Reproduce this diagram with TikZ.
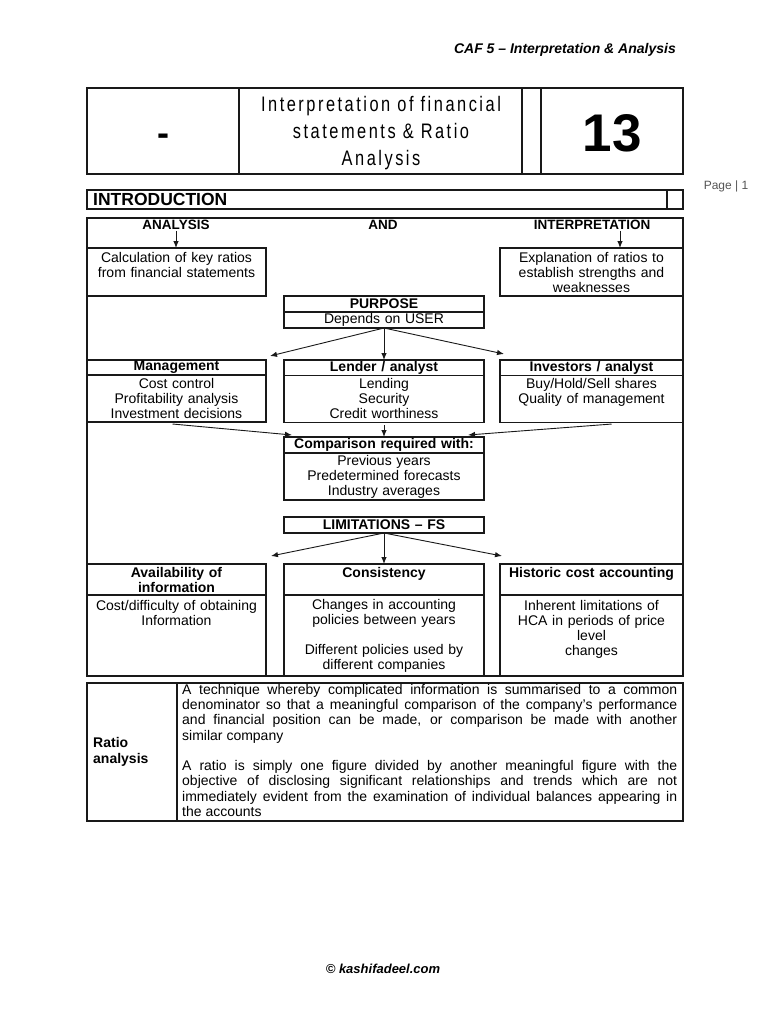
\documentclass[tikz,border=0pt]{standalone}
\usepackage{fontspec}
\setmainfont{Liberation Sans}
\newfontfamily\titlefont[FakeStretch=0.78,LetterSpace=12]{Liberation Sans}
\usepackage{xcolor}
\usepackage{tikz}
\usetikzlibrary{arrows.meta, positioning, calc}
\definecolor{mydark}{RGB}{25,25,25}
\definecolor{mygray}{RGB}{85,85,85}
\tikzset{
  hdrbox/.style={rectangle, draw=mydark, line width=1.1pt, outer sep=0pt,
    inner xsep=2pt, inner ysep=1pt, align=center,
    font=\bfseries\fontsize{14}{15}\selectfont},
  txtbox/.style={rectangle, draw=mydark, line width=1.1pt, outer sep=0pt,
    inner xsep=2pt, inner ysep=1pt, align=center,
    font=\fontsize{14}{15}\selectfont},
  colleft/.style={text width=175pt},
  colmid/.style={text width=196pt},
  colright/.style={text width=179pt},
  heading/.style={font=\bfseries\fontsize{13.5}{15}\selectfont, inner sep=1pt},
  arrow/.style={-{Latex[length=7pt,width=5.5pt]}, line width=0.9pt, color=mydark},
  boxline/.style={line width=1.2pt, draw=mydark}
}
\begin{document}
\begin{tikzpicture}[x=1pt, y=-1pt]
  \path[use as bounding box, fill=white] (0,0) rectangle (768,1024);
  \node[anchor=east, inner sep=0pt, font=\bfseries\itshape\fontsize{14}{16}\selectfont] (caf) at (676,50) {CAF 5 – Interpretation \& Analysis};
  \draw[boxline] (87,88) rectangle (683,174);
  \draw[boxline] (239,88) -- (239,174);
  \draw[boxline] (522,88) -- (522,174);
  \draw[boxline] (541,88) -- (541,174);
  \node[font=\bfseries\fontsize{36}{36}\selectfont] (dash) at (163,140) {-};
  \node[font={\titlefont\fontsize{21}{27}\selectfont}, align=center] (title) at (381,133) {Interpretation of financial\\statements \& Ratio\\Analysis};
  \node[font=\bfseries\fontsize{53}{53}\selectfont] (chap) at (612,133) {13};
  \node[font=\fontsize{12}{14}\selectfont, color=mygray] (page) at (726,186) {Page | 1};

  \draw[boxline] (87,190) rectangle (683,209);
  \draw[boxline] (667,190) -- (667,209);
  \node[anchor=west, font=\bfseries\fontsize{17.5}{19}\selectfont, inner sep=0pt] (intro) at (93,199.5) {INTRODUCTION};
  \draw[boxline] (87,218) rectangle (683,676);

  \node[heading] (analysis) at (176,225) {ANALYSIS};
  \node[heading] (and) at (383,225) {AND};
  \node[heading] (interp) at (592,225) {INTERPRETATION};

  \node[txtbox, colleft, minimum height=48pt, anchor=north west] (calc) at (87,248) {Calculation of key ratios\\from financial statements\\~};
  \node[txtbox, colright, minimum height=48pt, anchor=north west] (expl) at (500,248) {Explanation of ratios to\\establish strengths and\\weaknesses};
  \node[hdrbox, colmid, minimum height=16pt, anchor=north west] (purpose) at (284,296) {PURPOSE};
  \node[txtbox, colmid, minimum height=16pt, below=0pt of purpose] (user) {Depends on USER};

  \node[hdrbox, colleft, minimum height=15pt, anchor=north west] (mgmt) at (87,360) {Management};
  \node[txtbox, colleft, minimum height=47pt, below=0pt of mgmt] (mgmtbody) {Cost control\\Profitability analysis\\Investment decisions};
  \node[hdrbox, colmid, minimum height=15pt, anchor=north west] (lender) at (284,360) {Lender / analyst};
  \node[txtbox, colmid, minimum height=47pt, below=0pt of lender] (lenderbody) {Lending\\Security\\Credit worthiness};
  \node[hdrbox, colright, minimum height=15pt, anchor=north west] (invest) at (500,360) {Investors / analyst};
  \node[txtbox, colright, minimum height=47pt, below=0pt of invest] (investbody) {Buy/Hold/Sell shares\\Quality of management\\~};

  \node[hdrbox, colmid, minimum height=16pt, anchor=north west] (comp) at (284,437) {Comparison required with:};
  \node[txtbox, colmid, minimum height=47pt, below=0pt of comp] (compbody) {Previous years\\Predetermined forecasts\\Industry averages};

  \node[hdrbox, colmid, minimum height=16pt, anchor=north west] (limit) at (284,517) {LIMITATIONS – FS};

  \node[hdrbox, colleft, minimum height=31pt, anchor=north west] (avail) at (87,564) {Availability of\\information};
  \node[txtbox, colleft, minimum height=81pt, below=0pt of avail] (availbody) {Cost/difficulty of obtaining\\Information\\~\\~\\~};
  \node[hdrbox, colmid, minimum height=31pt, anchor=north west] (consist) at (284,564) {Consistency\\~};
  \node[txtbox, colmid, minimum height=81pt, below=0pt of consist] (consistbody) {Changes in accounting\\policies between years\\~\\Different policies used by\\different companies};
  \node[hdrbox, colright, minimum height=31pt, anchor=north west] (histor) at (500,564) {Historic cost accounting\\~};
  \node[txtbox, colright, minimum height=81pt, below=0pt of histor] (historbody) {Inherent limitations of\\HCA in periods of price\\level\\changes\\~};

  \draw[arrow] (analysis.south) -- (analysis.south |- calc.north);
  \draw[arrow] ([xshift=28pt]interp.south) -- ([xshift=28.5pt]expl.north);
  \draw[arrow] (user.south) -- ([shift={(4pt,4pt)}]mgmt.north east);
  \draw[arrow] (user.south) -- (lender.north);
  \draw[arrow] (user.south) -- ([shift={(4pt,6pt)}]invest.north west);
  \draw[arrow] ([shift={(-4pt,-2pt)}]mgmtbody.south) -- ([shift={(8pt,2pt)}]comp.north west);
  \draw[arrow] ([yshift=-3pt]lenderbody.south) -- (comp.north);
  \draw[arrow] ([shift={(20pt,-2pt)}]investbody.south) -- ([shift={(-16pt,2pt)}]comp.north east);
  \draw[arrow] (limit.south) -- ([shift={(5pt,8pt)}]avail.north east);
  \draw[arrow] (limit.south) -- (consist.north);
  \draw[arrow] (limit.south) -- ([shift={(2pt,8pt)}]histor.north west);

  \draw[boxline] (87,683) rectangle (683,821);
  \draw[boxline] (177,683) -- (177,821);
  \node[anchor=west, align=left, font=\bfseries\fontsize{14}{16.5}\selectfont, inner sep=0pt] (ratio) at (93,752) {Ratio\\analysis};
  \node[anchor=north west, text width=495pt, align=justify, inner xsep=2pt, inner ysep=1pt, font=\fontsize{14}{15.25}\selectfont] (ratiotext) at (180,683) {A technique whereby complicated information is summarised to a common\linebreak denominator so that a meaningful comparison of the company's performance\linebreak and financial position can be made, or comparison be made with another\linebreak similar company\par\vspace{15.25pt}A ratio is simply one figure divided by another meaningful figure with the\linebreak objective of disclosing significant relationships and trends which are not\linebreak immediately evident from the examination of individual balances appearing in\linebreak the accounts};

  \node[font=\bfseries\itshape\fontsize{13}{15}\selectfont] (site) at (383,969) {© kashifadeel.com};
\end{tikzpicture}
\end{document}
